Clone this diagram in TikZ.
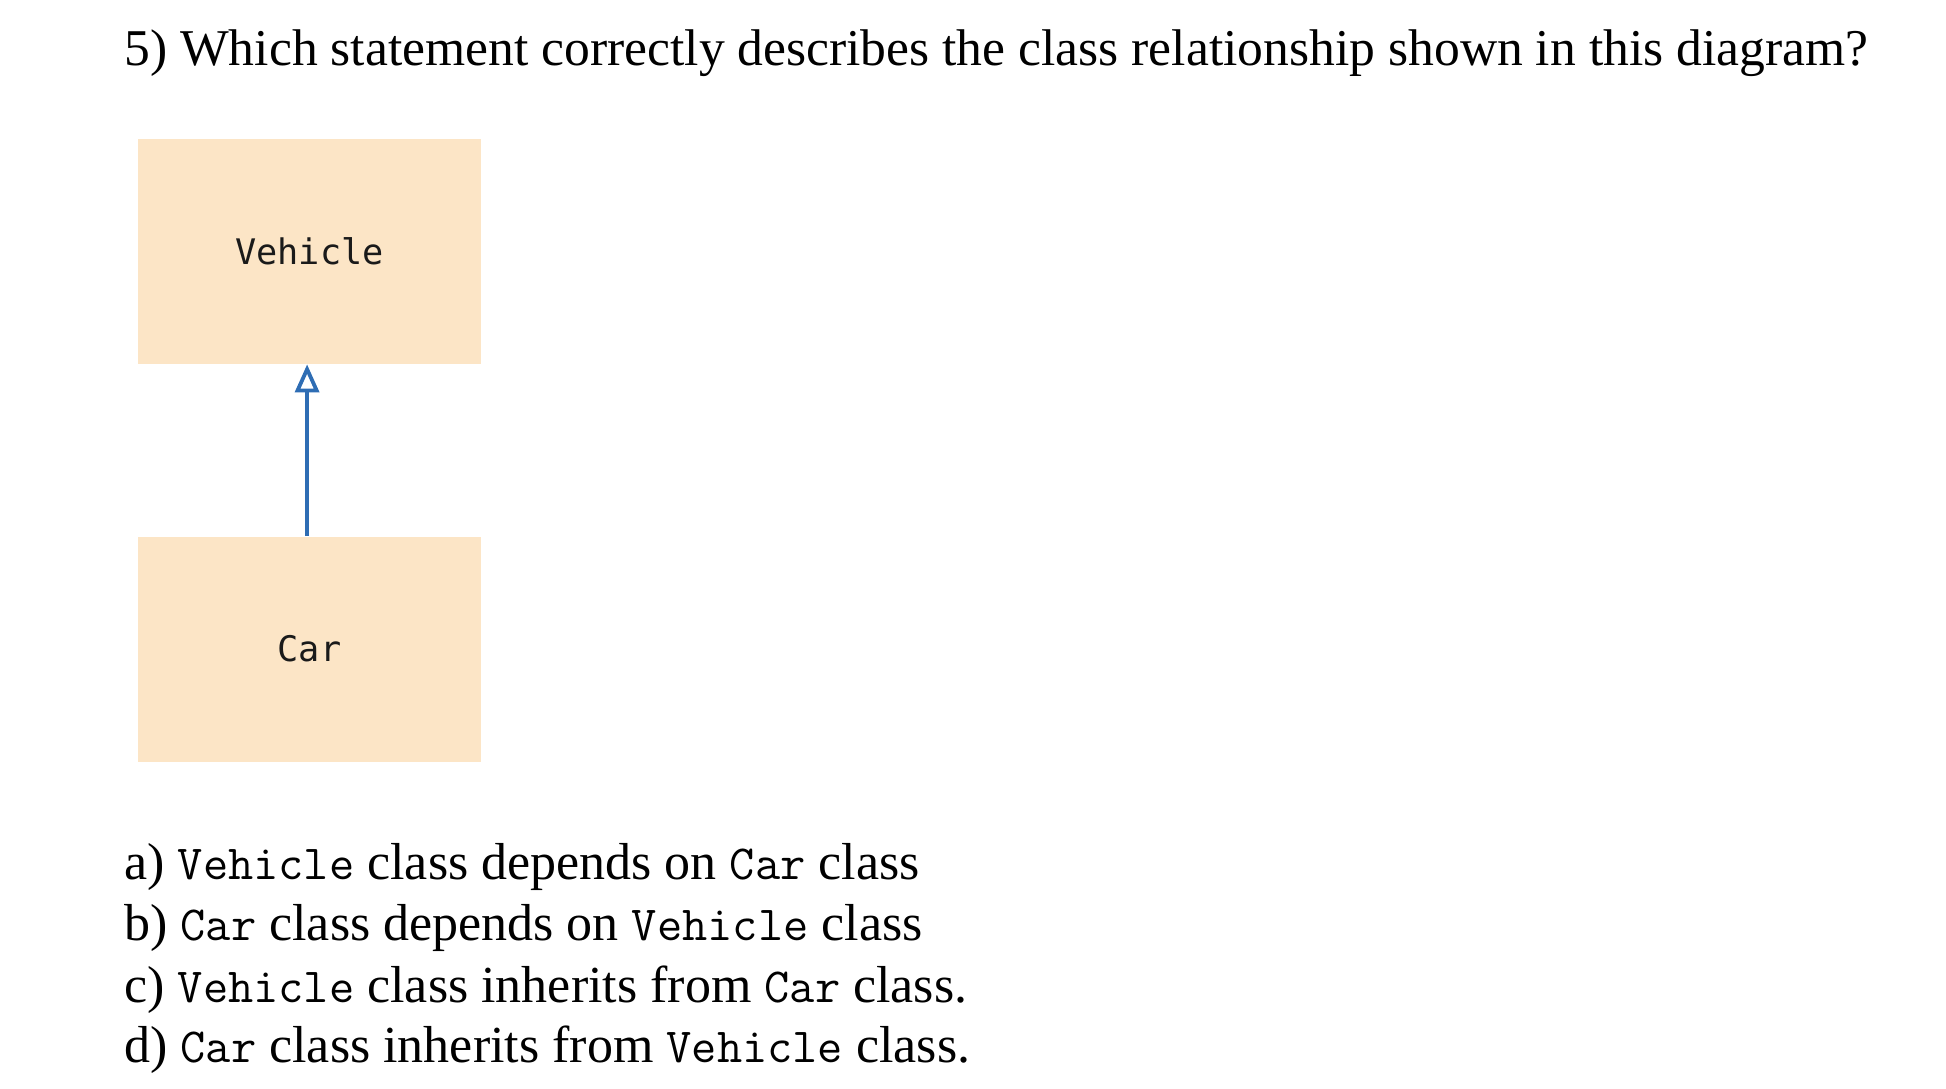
\documentclass[tikz,border=0pt]{standalone}
\usepackage{fontspec}
\setmainfont{Liberation Serif}
\newfontfamily\boxfont{DejaVu Sans Mono}
\usetikzlibrary{arrows.meta}
\definecolor{boxfill}{HTML}{FCE5C6}
\definecolor{arrowblue}{HTML}{2E6DB4}
\definecolor{boxtext}{HTML}{1A1A1A}
\newcommand{\cd}[1]{{\fontsize{24.5pt}{28pt}\ttfamily #1}}
\tikzset{
  classbox/.style={fill=boxfill, draw=none, minimum width=171.5pt, minimum height=112.5pt, inner sep=0pt, text=boxtext, font=\boxfont\fontsize{17.6pt}{20pt}\selectfont},
  inherit/.style={draw=arrowblue, line width=1.9pt, -{Triangle[open, width=12pt, length=14pt, line width=1.9pt]}},
  qtext/.style={anchor=base west, inner sep=0pt, font=\fontsize{25.8pt}{30pt}\selectfont},
  opt/.style={anchor=base west, inner sep=0pt, font=\fontsize{26pt}{30pt}\selectfont}
}
\begin{document}
\begin{tikzpicture}[x=0.5pt,y=-0.5pt]
\useasboundingbox (0,0) rectangle (1946,1088);
\node[qtext] (title) at (124,65) {5) Which statement correctly describes the class relationship shown in this diagram?};
\node[classbox] (vehicle) at (309.5,251.5) {Vehicle};
\node[classbox] (car) at (309.5,649) {Car};
\draw[inherit] ([xshift=-1.2pt]car.north) -- ([xshift=-1.2pt]vehicle.south);
\node[opt] (oa) at (124,879) {a) \cd{Vehicle} class depends on \cd{Car} class};
\node[opt] (ob) at (124,940) {b) \cd{Car} class depends on \cd{Vehicle} class};
\node[opt] (oc) at (124,1002) {c) \cd{Vehicle} class inherits from \cd{Car} class.};
\node[opt] (od) at (124,1062) {d) \cd{Car} class inherits from \cd{Vehicle} class.};
\end{tikzpicture}
\end{document}
